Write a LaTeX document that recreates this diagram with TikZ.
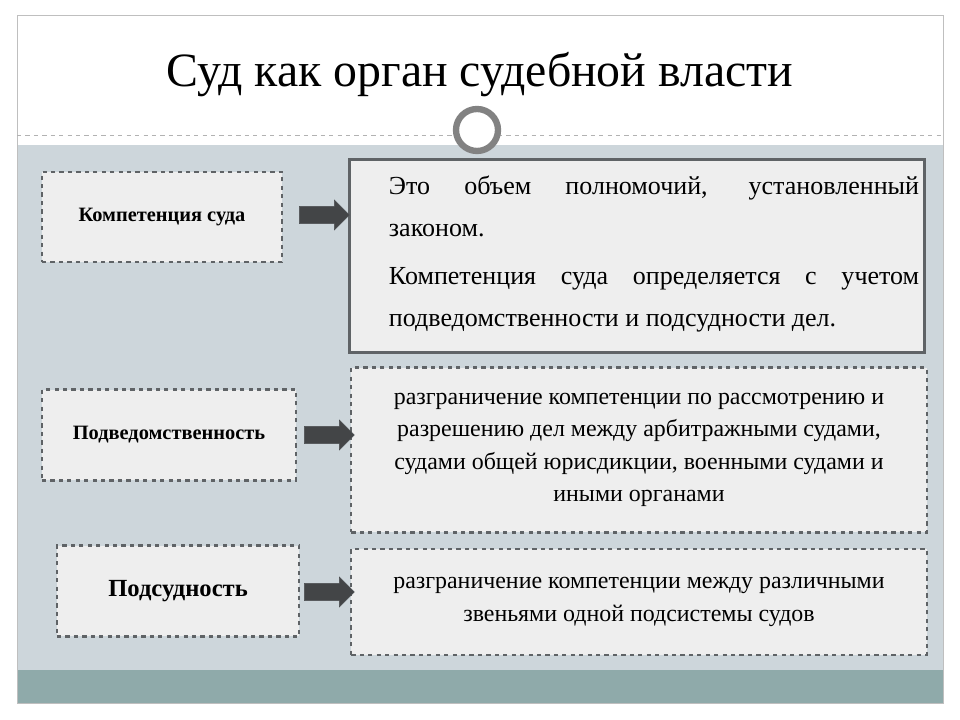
\documentclass[tikz,border=0pt]{standalone}
\usepackage{fontspec}
\setmainfont{Liberation Serif}
\usetikzlibrary{shapes.arrows,positioning}
\definecolor{bodybg}{HTML}{CDD6DB}
\definecolor{bandbg}{HTML}{8FAAAA}
\definecolor{boxfill}{HTML}{EEEEEE}
\definecolor{edge}{HTML}{5F6366}
\tikzset{
  termbox/.style={draw=edge, dashed, line width=1.6pt, fill=boxfill, font=\bfseries\fontsize{14.5}{17}\selectfont},
  textbox/.style={draw=edge, dashed, line width=1.6pt, fill=boxfill, align=center, font=\fontsize{17}{23}\selectfont},
  fatarrow/.style={single arrow, draw=edge!80!black, fill=edge!70!black, minimum height=1.25cm, minimum width=0.75cm, single arrow head extend=0.08cm, inner sep=0.1cm}
}
\begin{document}
\begin{tikzpicture}[x=0.025cm,y=-0.025cm]
  \useasboundingbox (0,0) rectangle (960,720);
  \fill[white] (0,0) rectangle (960,720);
  % slide frame
  \fill[bodybg] (17,145) rectangle (943,670);
  \fill[bandbg] (17,670) rectangle (943,703);
  \draw[gray!50] (17,15) rectangle (943,703);
  \draw[gray!60, dashed] (17,135) -- (943,135);
  \node (title) at (480,75) {\fontsize{34}{38}\selectfont Суд как орган судебной власти};
  \draw[gray!60!black!70, line width=4.5pt, fill=white] (477,130) circle (21);

  % left column
  \node[termbox, minimum width=6cm, minimum height=2.25cm] (comp) at (162,217) {Компетенция суда};
  \node[termbox, minimum width=6.35cm, minimum height=2.27cm] (podv) at (169,435) {Подведомственность};
  \node[termbox, minimum width=6.05cm, minimum height=2.27cm, font=\bfseries\fontsize{17.5}{20}\selectfont] (pods) at (178,591) {Подсудность};

  % right column
  \node[draw=edge, line width=2pt, fill=boxfill, minimum width=14.38cm, minimum height=4.82cm] (defn) at (637,256) {};
  \node[text width=13.25cm, align=justify, font=\fontsize{18.5}{30}\selectfont, anchor=north west] (defntext) at (384,171)
    {Это объем полномочий, установленный законом.\par\vspace{4pt}
     Компетенция суда определяется с учетом подведомственности и подсудности дел.};
  \node[textbox, minimum width=14.38cm, minimum height=4.12cm] (podvtext) at (639,450)
    {разграничение компетенции по рассмотрению и\\ разрешению дел между арбитражными судами,\\ судами общей юрисдикции, военными судами и\\ иными органами};
  \node[textbox, minimum width=14.38cm, minimum height=2.65cm] (podstext) at (639,602)
    {разграничение компетенции между различными\\ звеньями одной подсистемы судов};

  % arrows
  \node[fatarrow] (a1) at (320,215) {};
  \node[fatarrow] (a2) at (325,435) {};
  \node[fatarrow] (a3) at (325,592) {};
\end{tikzpicture}
\end{document}
